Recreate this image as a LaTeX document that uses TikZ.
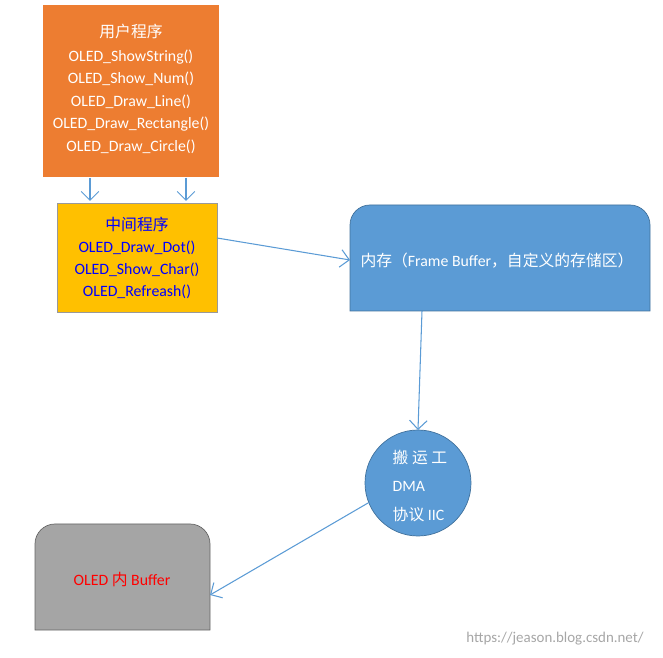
\documentclass[tikz,border=0pt]{standalone}
\usepackage{fontspec}
\setmainfont{Carlito}
\newfontfamily\cjk{Noto Sans CJK SC}
\usetikzlibrary{positioning}
\usetikzlibrary{arrows.meta}
\definecolor{orangebox}{HTML}{ED7D31}
\definecolor{yellowbox}{HTML}{FFC000}
\definecolor{bluebox}{HTML}{5B9BD5}
\definecolor{blueline}{HTML}{41719C}
\definecolor{graybox}{HTML}{A5A5A5}
\tikzset{
  line/.style={draw=bluebox, -{Straight Barb[length=5pt]}, semithick},
  txt/.style={font=\fontsize{9}{11}\selectfont, inner sep=0pt},
}
\begin{document}
\begin{tikzpicture}[x=0.02cm, y=-0.02cm]
\useasboundingbox (0,0) rectangle (663,658);
% user program
\fill[orangebox] (43,5) rectangle (219,177);
\node[txt, white] (user) at (131,32) {\cjk 用户程序};
\node[txt, white] at (131,57) {OLED\_ShowString()};
\node[txt, white] at (131,79) {OLED\_Show\_Num()};
\node[txt, white] at (131,102) {OLED\_Draw\_Line()};
\node[txt, white] at (131,124) {OLED\_Draw\_Rectangle()};
\node[txt, white] at (131,147) {OLED\_Draw\_Circle()};
\coordinate (u1) at (90,178);
\coordinate (u2) at (186,178);
% middle program
\filldraw[fill=yellowbox, draw=black!40] (57,203) rectangle (217,312);
\node[txt, blue] (mid) at (137,224) {\cjk 中间程序};
\node[txt, blue] at (137,248) {OLED\_Draw\_Dot()};
\node[txt, blue] at (137,270) {OLED\_Show\_Char()};
\node[txt, blue] at (137,292) {OLED\_Refreash()};
\coordinate (m1) at (90,201);
\coordinate (m2) at (186,201);
\coordinate (mr) at (217,238);
% frame buffer
\filldraw[fill=bluebox, draw=blueline] (350,311) {[rounded corners=0.4cm] -- (350,205) -- (650,205)} -- (650,311) -- cycle;
\node[txt, white] (fb) at (497,261) {\cjk 内存（{\rmfamily Frame Buffer}，自定义的存储区）};
\coordinate (fbl) at (350,260);
\coordinate (fbb) at (422,311);
% dma
\filldraw[fill=bluebox, draw=blueline] (418,483) circle (53);
\node[txt, white, align=left] (dma) at (420,486) {{\cjk 搬 运 工}\\[5pt]DMA\\[5pt]{\cjk 协议} IIC};
\coordinate (dt) at (418,430);
\coordinate (dl) at (368,503);
% oled buffer
\filldraw[fill=graybox, draw=black!60] (35,630) {[rounded corners=0.4cm] -- (35,524) -- (210,524)} -- (210,630) -- cycle;
\node[txt, red] (oled) at (122,580) {OLED {\cjk 内} Buffer};
\coordinate (or) at (210,595);
% arrows
\draw[line] (u1) -- (m1);
\draw[line] (u2) -- (m2);
\draw[line] (mr) -- (fbl);
\draw[line] (fbb) -- (dt);
\draw[line] (dl) -- (or);
\node[txt, gray!70, font=\fontsize{8.5}{10}\selectfont] (wm) at (555,639) {https://jeason.blog.csdn.net/};
\end{tikzpicture}
\end{document}
